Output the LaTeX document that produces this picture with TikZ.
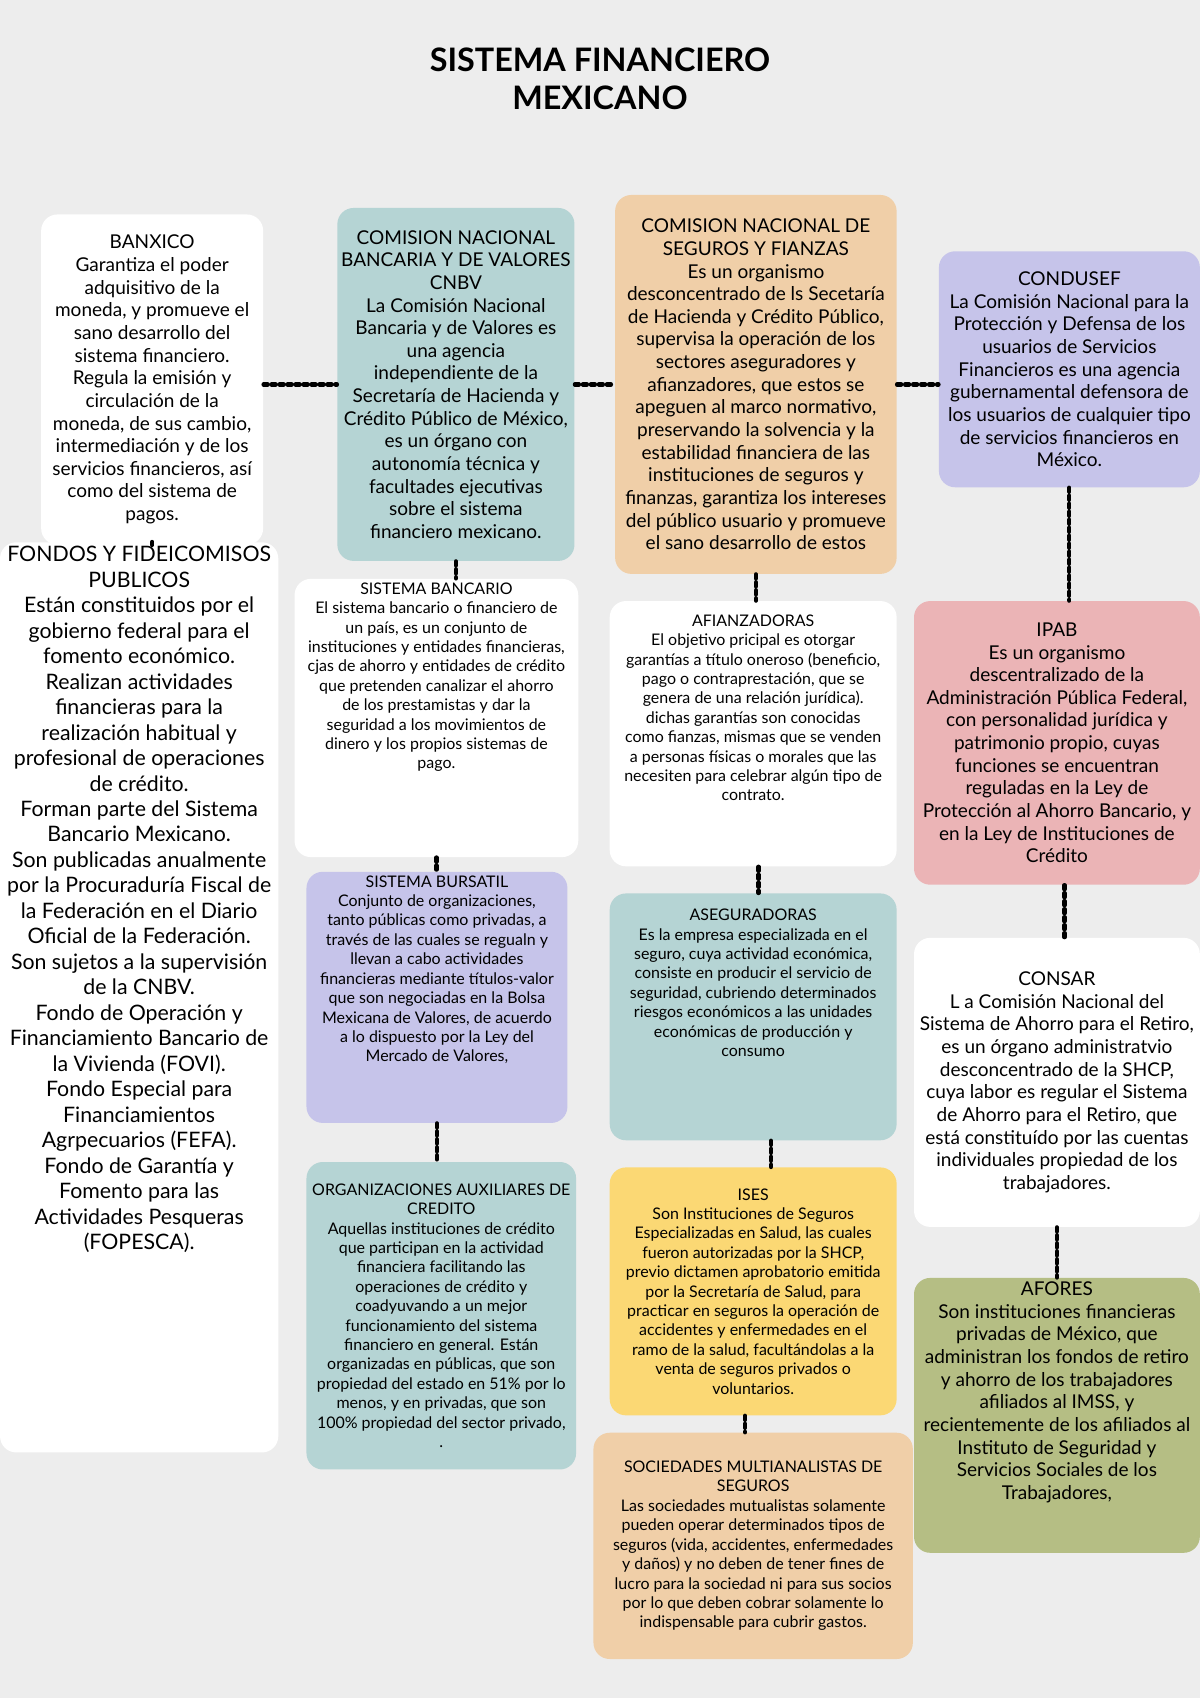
\documentclass[tikz,border=0pt]{standalone}
\usepackage{fontspec}
\setmainfont{Lato}
\definecolor{bgray}{HTML}{EDEDED}
\definecolor{teal}{HTML}{B5D4D4}
\definecolor{peach}{HTML}{F0CFA8}
\definecolor{lavender}{HTML}{C6C4EA}
\definecolor{rose}{HTML}{EBB4B6}
\definecolor{sun}{HTML}{FBD874}
\definecolor{olive}{HTML}{B5BE84}
\tikzset{
  panel/.style={rounded corners=0.3cm, inner sep=2pt, align=center, font=\fontsize{10}{11.9}\selectfont},
  small/.style={font=\fontsize{8.4}{10.2}\selectfont},
  link/.style={line width=2.2pt, dotted, line cap=round}
}
\begin{document}
\begin{tikzpicture}[x=0.02cm,y=-0.02cm]
    \fill[bgray] (0,0) rectangle (1108,1568);
    \useasboundingbox (0,0) rectangle (1108,1568);
    \node[font=\fontsize{17}{20}\selectfont\bfseries, align=center] (title) at (554,73) {SISTEMA FINANCIERO\\MEXICANO};
    % first row
    \node[panel, fill=white, minimum width=4.10cm, minimum height=6.10cm] (banxico) at (140.5,350.5)
        {BANXICO\\Garantiza el poder\\adquisitivo de la\\moneda, y promueve el\\sano desarrollo del\\sistema financiero.\\Regula la emisión y\\circulación de la\\moneda, de sus cambio,\\intermediación y de los\\servicios financieros, así\\como del sistema de\\pagos.};
    \node[panel, fill=teal, minimum width=4.32cm, minimum height=6.52cm] (cnbv) at (421,355)
        {COMISION NACIONAL\\BANCARIA Y DE VALORES\\CNBV\\La Comisión Nacional\\Bancaria y de Valores es\\una agencia\\independiente de la\\Secretaría de Hacienda y\\Crédito Público de México,\\es un órgano con\\autonomía técnica y\\facultades ejecutivas\\sobre el sistema\\financiero mexicano.};
    \node[panel, fill=peach, minimum width=5.20cm, minimum height=7.00cm] (cnsf) at (698,355)
        {COMISION NACIONAL DE\\SEGUROS Y FIANZAS\\Es un organismo\\desconcentrado de ls Secetaría\\de Hacienda y Crédito Público,\\supervisa la operación de los\\sectores aseguradores y\\afianzadores, que estos se\\apeguen al marco normativo,\\preservando la solvencia y la\\estabilidad financiera de las\\instituciones de seguros y\\finanzas, garantiza los intereses\\del público usuario y promueve\\el sano desarrollo de estos};
    \node[panel, fill=lavender, minimum width=4.82cm, minimum height=4.36cm] (condusef) at (987.5,341)
        {CONDUSEF\\La Comisión Nacional para la\\Protección y Defensa de los\\usuarios de Servicios\\Financieros es una agencia\\gubernamental defensora de\\los usuarios de cualquier tipo\\de servicios financieros en\\México.};
    % second row
    \node[panel, fill=white, minimum width=5.14cm, minimum height=14.44cm, font=\fontsize{11.2}{13.4}\selectfont] (fondos) at (128.5,921)
        {FONDOS Y FIDEICOMISOS\\PUBLICOS\\Están constituidos por el\\gobierno federal para el\\fomento económico.\\Realizan actividades\\financieras para la\\realización habitual y\\profesional de operaciones\\de crédito.\\Forman parte del Sistema\\Bancario Mexicano.\\Son publicadas anualmente\\por la Procuraduría Fiscal de\\la Federación en el Diario\\Oficial de la Federación.\\Son sujetos a la supervisión\\de la CNBV.\\Fondo de Operación y\\Financiamiento Bancario de\\la Vivienda (FOVI).\\Fondo Especial para\\Financiamientos\\Agrpecuarios (FEFA).\\Fondo de Garantía y\\Fomento para las\\Actividades Pesqueras\\(FOPESCA).\\[3.2cm]};
    \node[panel, small, fill=white, minimum width=5.24cm, minimum height=4.92cm] (bancario) at (403,663)
        {SISTEMA BANCARIO\\El sistema bancario o financiero de\\un país, es un conjunto de\\instituciones y entidades financieras,\\cjas de ahorro y entidades de crédito\\que pretenden canalizar el ahorro\\de los prestamistas y dar la\\seguridad a los movimientos de\\dinero y los propios sistemas de\\pago.\\[1.2cm]};
    \node[panel, small, fill=white, minimum width=5.30cm, minimum height=4.90cm] (afianz) at (695.5,677.5)
        {AFIANZADORAS\\El objetivo pricipal es otorgar\\garantías a título oneroso (beneficio,\\pago o contraprestación, que se\\genera de una relación jurídica).\\dichas garantías son conocidas\\como fianzas, mismas que se venden\\a personas físicas o morales que las\\necesiten para celebrar algún tipo de\\contrato.\\[0.6cm]};
    \node[panel, fill=rose, minimum width=5.28cm, minimum height=5.24cm] (ipab) at (976,686)
        {IPAB\\Es un organismo\\descentralizado de la\\Administración Pública Federal,\\con personalidad jurídica y\\patrimonio propio, cuyas\\funciones se encuentran\\reguladas en la Ley de\\Protección al Ahorro Bancario, y\\en la Ley de Instituciones de\\Crédito};
    % third row
    \node[panel, small, fill=lavender, minimum width=4.82cm, minimum height=4.56cm] (bursatil) at (403.5,921)
        {SISTEMA BURSATIL\\Conjunto de organizaciones,\\tanto públicas como privadas, a\\través de las cuales se regualn y\\llevan a cabo actividades\\financieras mediante títulos-valor\\que son negociadas en la Bolsa\\Mexicana de Valores, de acuerdo\\a lo dispuesto por la Ley del\\Mercado de Valores,\\[0.7cm]};
    \node[panel, small, fill=teal, minimum width=5.30cm, minimum height=4.56cm] (aseg) at (695.5,939)
        {ASEGURADORAS\\Es la empresa especializada en el\\seguro, cuya actividad económica,\\consiste en producir el servicio de\\seguridad, cubriendo determinados\\riesgos económicos a las unidades\\económicas de producción y\\consumo\\[0.9cm]};
    \node[panel, fill=white, minimum width=5.28cm, minimum height=5.34cm] (consar) at (976,999.5)
        {CONSAR\\L a Comisión Nacional del\\Sistema de Ahorro para el Retiro,\\es un órgano administratvio\\desconcentrado de la SHCP,\\cuya labor es regular el Sistema\\de Ahorro para el Retiro, que\\está constituído por las cuentas\\individuales propiedad de los\\trabajadores.};
    % fourth row
    \node[panel, small, fill=teal, minimum width=4.98cm, minimum height=5.68cm] (auxiliares) at (407.5,1215)
        {ORGANIZACIONES AUXILIARES DE\\CREDITO\\Aquellas instituciones de crédito\\que participan en la actividad\\financiera facilitando las\\operaciones de crédito y\\coadyuvando a un mejor\\funcionamiento del sistema\\financiero en general. Están\\organizadas en públicas, que son\\propiedad del estado en 51\% por lo\\menos, y en privadas, que son\\100\% propiedad del sector privado,\\.};
    \node[panel, small, fill=sun, minimum width=5.30cm, minimum height=4.58cm] (ises) at (695.5,1192.5)
        {ISES\\Son Instituciones de Seguros\\Especializadas en Salud, las cuales\\fueron autorizadas por la SHCP,\\previo dictamen aprobatorio emitida\\por la Secretaría de Salud, para\\practicar en seguros la operación de\\accidentes y enfermedades en el\\ramo de la salud, facultándolas a la\\venta de seguros privados o\\voluntarios.};
    \node[panel, fill=olive, minimum width=5.28cm, minimum height=4.84cm] (afores) at (976,1307)
        {AFORES\\Son instituciones financieras\\privadas de México, que\\administran los fondos de retiro\\y ahorro de los trabajadores\\afiliados al IMSS, y\\recientemente de los afiliados al\\Instituto de Seguridad y\\Servicios Sociales de los\\Trabajadores,\\[0.5cm]};
    \node[panel, small, fill=peach, minimum width=5.90cm, minimum height=4.18cm] (sociedades) at (695.5,1427.5)
        {SOCIEDADES MULTIANALISTAS DE\\SEGUROS\\Las sociedades mutualistas solamente\\pueden operar determinados tipos de\\seguros (vida, accidentes, enfermedades\\y daños) y no deben de tener fines de\\lucro para la sociedad ni para sus socios\\por lo que deben cobrar solamente lo\\indispensable para cubrir gastos.};
    % dotted links
    \draw[link] (banxico.east |- 0,355) -- (cnbv.west |- 0,355);
    \draw[link] (cnbv.east |- 0,355) -- (cnsf.west |- 0,355);
    \draw[link] (cnsf.east |- 0,355) -- (condusef.west |- 0,355);
    \draw[link] (banxico.south) -- (banxico.south |- fondos.north);
    \draw[link] (cnbv.south) -- (cnbv.south |- bancario.north);
    \draw[link] (bancario.south) -- (bancario.south |- bursatil.north);
    \draw[link] (bursatil.south) -- (bursatil.south |- auxiliares.north);
    \draw[link] (cnsf.south) -- (cnsf.south |- afianz.north);
    \draw[link] ([xshift=0.1cm]afianz.south) -- ([xshift=0.1cm]afianz.south |- aseg.north);
    \draw[link] ([xshift=0.33cm]aseg.south) -- ([xshift=0.33cm]aseg.south |- ises.north);
    \draw[link] ([xshift=-0.15cm]ises.south) -- ([xshift=-0.15cm]ises.south |- sociedades.north);
    \draw[link] (condusef.south) -- (condusef.south |- ipab.north);
    \draw[link] ([xshift=0.14cm]ipab.south) -- ([xshift=0.14cm]ipab.south |- consar.north);
    \draw[link] (consar.south) -- (consar.south |- afores.north);
\end{tikzpicture}
\end{document}
